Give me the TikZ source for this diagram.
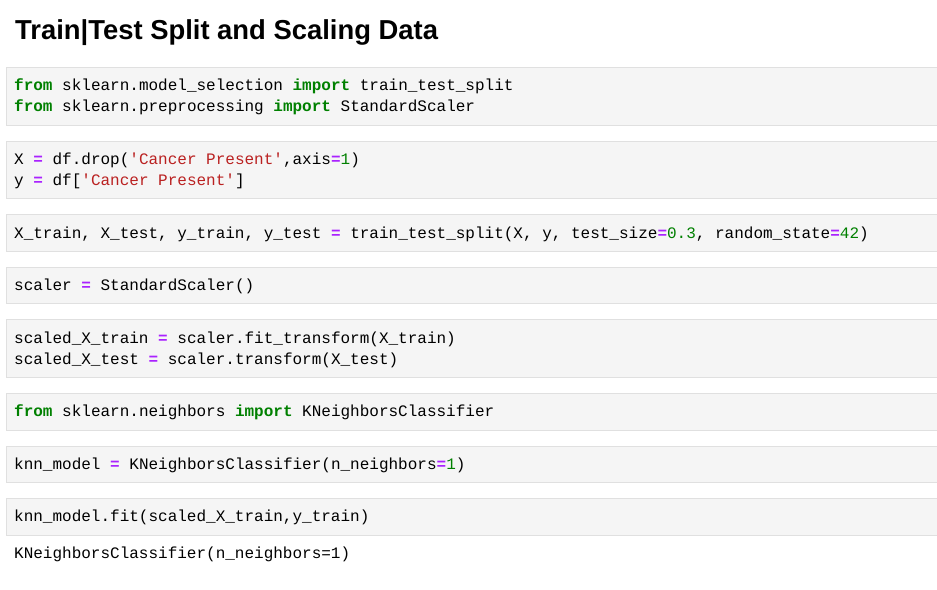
\documentclass[tikz,border=0pt]{standalone}
\usepackage{fontspec}
\setmainfont{Liberation Sans}
\setmonofont{Liberation Mono}
\definecolor{kwc}{HTML}{008000}
\definecolor{stc}{HTML}{BA2121}
\definecolor{opc}{HTML}{AA22FF}
\definecolor{cellbg}{HTML}{F5F5F5}
\definecolor{cellbd}{HTML}{E0E0E0}
\newcommand{\kw}[1]{\textcolor{kwc}{\bfseries #1}}
\newcommand{\st}[1]{\textcolor{stc}{#1}}
\newcommand{\nm}[1]{\textcolor{kwc}{#1}}
\newcommand{\op}[1]{\textcolor{opc}{\bfseries #1}}
\tikzset{cell/.style={fill=cellbg,draw=cellbd,line width=0.8pt},
code/.style={anchor=base west,inner sep=0pt,font=\fontsize{16pt}{20pt}\ttfamily}}
\begin{document}
\begin{tikzpicture}[x=1pt,y=-1pt]
\useasboundingbox[fill=white] (0,0) rectangle (937,589);
\node[anchor=base west,inner sep=0pt,font=\fontsize{27.4pt}{30pt}\selectfont\bfseries] (title) at (15,39) {Train|Test Split and Scaling Data};
\path[cell] (6,67) rectangle (940,125);
\path[cell] (6,141) rectangle (940,198);
\path[cell] (6,214) rectangle (940,251);
\path[cell] (6,267) rectangle (940,303);
\path[cell] (6,319) rectangle (940,377);
\path[cell] (6,393) rectangle (940,430);
\path[cell] (6,446) rectangle (940,482);
\path[cell] (6,498) rectangle (940,535);
\node[code] (l1) at (14,90) {\kw{from} sklearn.model\_selection \kw{import} train\_test\_split};
\node[code] (l2) at (14,111) {\kw{from} sklearn.preprocessing \kw{import} StandardScaler};
\node[code] (l3) at (14,164) {X \op{=} df.drop(\st{'Cancer Present'},axis\op{=}\nm{1})};
\node[code] (l4) at (14,185) {y \op{=} df[\st{'Cancer Present'}]};
\node[code] (l5) at (14,238) {X\_train, X\_test, y\_train, y\_test \op{=} train\_test\_split(X, y, test\_size\op{=}\nm{0.3}, random\_state\op{=}\nm{42})};
\node[code] (l6) at (14,290) {scaler \op{=} StandardScaler()};
\node[code] (l7) at (14,343) {scaled\_X\_train \op{=} scaler.fit\_transform(X\_train)};
\node[code] (l8) at (14,364) {scaled\_X\_test \op{=} scaler.transform(X\_test)};
\node[code] (l9) at (14,416) {\kw{from} sklearn.neighbors \kw{import} KNeighborsClassifier};
\node[code] (l10) at (14,469) {knn\_model \op{=} KNeighborsClassifier(n\_neighbors\op{=}\nm{1})};
\node[code] (l11) at (14,521) {knn\_model.fit(scaled\_X\_train,y\_train)};
\node[code] (l12) at (14,558) {KNeighborsClassifier(n\_neighbors=1)};
\end{tikzpicture}
\end{document}
